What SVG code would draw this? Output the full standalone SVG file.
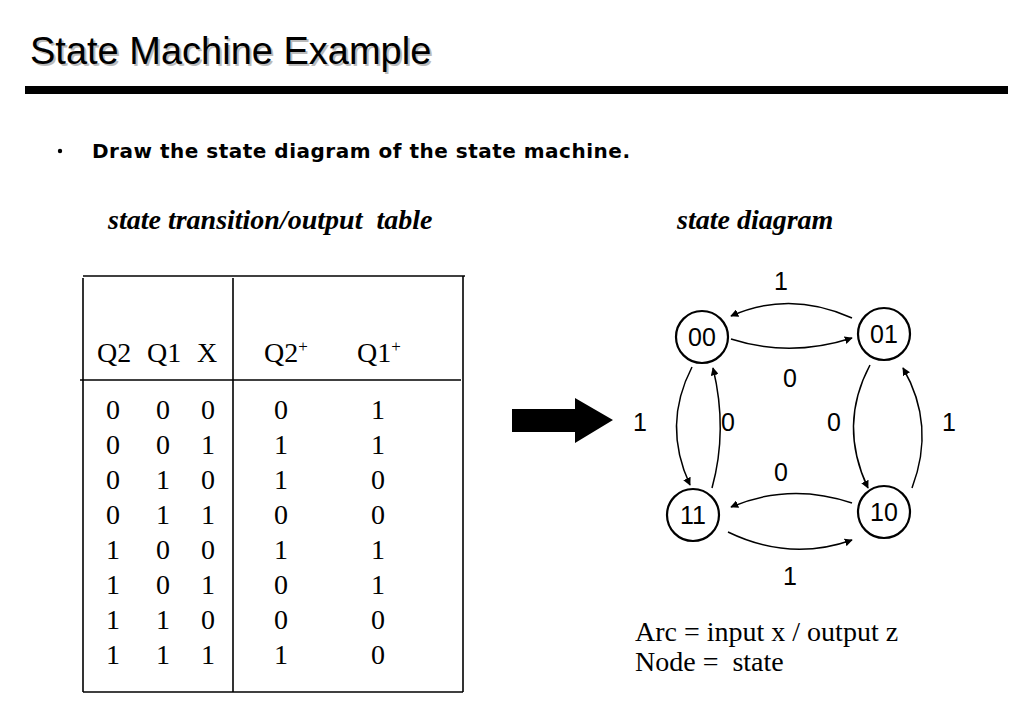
<svg xmlns="http://www.w3.org/2000/svg" width="1024" height="728" viewBox="0 0 1024 728">
<style>
.t{font-family:"Liberation Serif",serif;font-size:28px;fill:#000}
.h{font-family:"Liberation Serif",serif;font-size:28px;font-style:italic;font-weight:bold}
.a{font-family:"Liberation Sans",sans-serif;font-size:25px;fill:#000}
.n circle{fill:#fff;stroke:#000;stroke-width:2.2}
.c path{fill:none;stroke:#000;stroke-width:1.5;marker-end:url(#ah)}
.ln{stroke:#000;stroke-width:1.6}
</style>
<defs>
<marker id="ah" viewBox="0 0 10 10" refX="9" refY="5" markerWidth="8" markerHeight="8" markerUnits="userSpaceOnUse" orient="auto"><path d="M0,0 L10,5 L0,10 z"/></marker>
</defs>
<rect width="1024" height="728" fill="#fff"/>
<text x="32" y="66" font-family="Liberation Sans,sans-serif" font-size="38" fill="#bbb">State Machine Example</text>
<text x="30" y="64" font-family="Liberation Sans,sans-serif" font-size="38">State Machine Example</text>
<rect x="25" y="86" width="983" height="8" fill="#000"/>
<circle cx="60" cy="151" r="2.2" fill="#000"/>
<text x="92" y="158" font-family="DejaVu Sans,sans-serif" font-weight="bold" font-size="20" textLength="538">Draw the state diagram of the state machine.</text>
<text x="108" y="229" class="h" xml:space="preserve">state transition/output  table</text>
<text x="677" y="229" class="h">state diagram</text>
<g id="table">
<line class="ln" x1="83" y1="276" x2="465" y2="276"/>
<line class="ln" x1="83" y1="278" x2="83" y2="692"/>
<line class="ln" x1="233" y1="278" x2="233" y2="692"/>
<line class="ln" x1="463" y1="276" x2="463" y2="692"/>
<line class="ln" x1="80" y1="380" x2="461" y2="380"/>
<line class="ln" x1="83" y1="692" x2="463" y2="692"/>
<text class="t" y="362"><tspan x="97">Q2</tspan><tspan x="147">Q1</tspan><tspan x="197">X</tspan><tspan x="264">Q2</tspan><tspan font-size="17" dy="-10">+</tspan><tspan x="357" dy="10">Q1</tspan><tspan font-size="17" dy="-10">+</tspan></text>
<g class="t" text-anchor="middle">
<text y="419"><tspan x="113">0</tspan><tspan x="163">0</tspan><tspan x="208">0</tspan><tspan x="281">0</tspan><tspan x="378">1</tspan></text>
<text y="454"><tspan x="113">0</tspan><tspan x="163">0</tspan><tspan x="208">1</tspan><tspan x="281">1</tspan><tspan x="378">1</tspan></text>
<text y="489"><tspan x="113">0</tspan><tspan x="163">1</tspan><tspan x="208">0</tspan><tspan x="281">1</tspan><tspan x="378">0</tspan></text>
<text y="524"><tspan x="113">0</tspan><tspan x="163">1</tspan><tspan x="208">1</tspan><tspan x="281">0</tspan><tspan x="378">0</tspan></text>
<text y="559"><tspan x="113">1</tspan><tspan x="163">0</tspan><tspan x="208">0</tspan><tspan x="281">1</tspan><tspan x="378">1</tspan></text>
<text y="594"><tspan x="113">1</tspan><tspan x="163">0</tspan><tspan x="208">1</tspan><tspan x="281">0</tspan><tspan x="378">1</tspan></text>
<text y="629"><tspan x="113">1</tspan><tspan x="163">1</tspan><tspan x="208">0</tspan><tspan x="281">0</tspan><tspan x="378">0</tspan></text>
<text y="664"><tspan x="113">1</tspan><tspan x="163">1</tspan><tspan x="208">1</tspan><tspan x="281">1</tspan><tspan x="378">0</tspan></text>
</g>
</g>
<path id="bigarrow" d="M512,409 H575 V398 L613,420 L575,443 V432 H512 z" fill="#000"/>
<g id="connectors" class="c">
<path d="M852,318 Q790,290 731,316"/>
<path d="M731,339 Q790,358 852,338"/>
<path d="M692,367 Q662,425 690,485"/>
<path d="M712,488 Q728,430 713,368"/>
<path d="M870,365 Q838,425 868,488"/>
<path d="M912,488 Q936,425 903,368"/>
<path d="M852,503 Q790,482 731,507"/>
<path d="M728,532 Q790,562 852,540"/>
</g>
<g id="n00" class="n"><circle cx="702" cy="337" r="26"/><text class="a" x="702" y="346" text-anchor="middle">00</text></g>
<g id="n01" class="n"><circle cx="884" cy="334" r="26"/><text class="a" x="884" y="343" text-anchor="middle">01</text></g>
<g id="n11" class="n"><circle cx="693" cy="515" r="26"/><text class="a" x="693" y="524" text-anchor="middle">11</text></g>
<g id="n10" class="n"><circle cx="884" cy="512" r="26"/><text class="a" x="884" y="521" text-anchor="middle">10</text></g>
<g class="a" text-anchor="middle">
<text x="781" y="290">1</text>
<text x="790" y="387">0</text>
<text x="640" y="431">1</text>
<text x="728" y="431">0</text>
<text x="834" y="431">0</text>
<text x="949" y="431">1</text>
<text x="781" y="481">0</text>
<text x="790" y="585">1</text>
</g>
<text class="t" font-size="23" x="635" y="641">Arc = input x / output z</text>
<text class="t" font-size="23" x="635" y="671" xml:space="preserve">Node =  state</text>
</svg>
